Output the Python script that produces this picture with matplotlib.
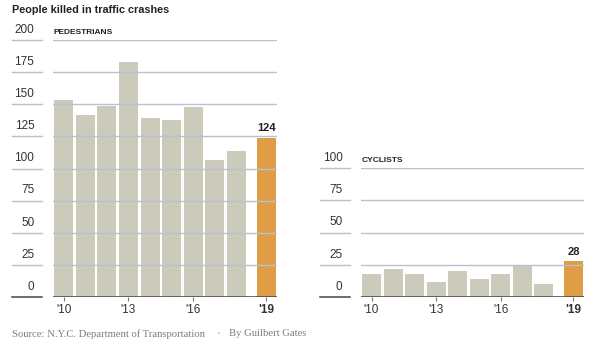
import matplotlib
matplotlib.use("Agg")
import matplotlib.pyplot as plt

# data
years = ["'10", "'11", "'12", "'13", "'14", "'15", "'16", "'17", "'18", "'19"]
pedestrians = [153, 142, 149, 183, 139, 138, 148, 107, 114, 124]
cyclists = [18, 22, 18, 12, 20, 14, 18, 24, 10, 28]
ped_ticks = [0, 25, 50, 75, 100, 125, 150, 175, 200]
cyc_ticks = [0, 25, 50, 75, 100]
shown_years = ["'10", "'13", "'16", "'19"]

GREY_BAR = "#cbcabb"
ORANGE = "#e09d45"
GRID = "#b4c3d0"
TEXT = "#333333"
SANS = ["Liberation Sans", "DejaVu Sans"]
SERIF = ["Liberation Serif", "DejaVu Serif"]

# bar positions: 2019 set a bit apart from the others
xpos = [i for i in range(9)] + [9.38]

fig = plt.figure(figsize=(6, 3.51), dpi=100)
fig.patch.set_facecolor("white")


def panel(rect, values, ticks, name):
    ax = fig.add_axes(rect)
    colors = [GREY_BAR] * 9 + [ORANGE]
    ax.bar(xpos, values, width=0.88, color=colors, zorder=2)
    ax.set_xlim(-0.49, 9.87)
    ax.set_ylim(0, ticks[-1])
    for s in ax.spines.values():
        s.set_visible(False)
    ax.set_yticks([])
    # gridlines on top of the bars
    for t in ticks:
        if t == 0:
            ax.axhline(t, color="#444444", lw=1.1, zorder=3)
        else:
            ax.axhline(t, color=GRID, lw=1.0, zorder=3)
        # short rule + number to the left of the plot
        ax.plot([-0.183, -0.05], [t, t], transform=ax.get_yaxis_transform(),
                color="#444444" if t == 0 else GRID, lw=1.0 if t else 1.1,
                clip_on=False)
        ax.annotate(str(t), xy=(-0.083, t), xycoords=("axes fraction", "data"),
                    xytext=(0, 3), textcoords="offset points",
                    ha="right", va="bottom", fontsize=8.5, color=TEXT,
                    family=SANS, annotation_clip=False)
    # x ticks
    idx = [years.index(y) for y in shown_years]
    ax.set_xticks([xpos[i] for i in idx])
    ax.set_xticklabels(shown_years, family=SANS, fontsize=8.5, color=TEXT)
    ax.get_xticklabels()[-1].set_fontweight("bold")
    ax.tick_params(axis="x", length=3, width=0.8, color="#777777", pad=2)
    # highlight label
    ax.annotate(str(values[-1]), xy=(xpos[-1], values[-1]),
                xytext=(0, 3), textcoords="offset points",
                ha="center", va="bottom", fontsize=8, fontweight="bold",
                color="#222222", family=SANS, zorder=5,
                bbox=dict(boxstyle="square,pad=0.15", fc="white", ec="none"))
    ax.annotate(name, xy=(0.004, 1.0), xycoords="axes fraction",
                xytext=(0, 3), textcoords="offset points",
                ha="left", va="bottom", fontsize=6, fontweight="bold",
                color="#222222", family=SANS)
    return ax


panel([53 / 600, 54 / 351, 224 / 600, 257 / 351], pedestrians, ped_ticks, "PEDESTRIANS")
panel([361 / 600, 54 / 351, 223 / 600, 128.7 / 351], cyclists, cyc_ticks, "CYCLISTS")

fig.text(12 / 600, 1 - 10 / 351, "People killed in traffic crashes",
         ha="left", va="center", fontsize=7.8, fontweight="bold",
         color="#222222", family=SANS)

fig.text(12 / 600, 1 - 334 / 351, "Source: N.Y.C. Department of Transportation",
         ha="left", va="center", fontsize=7.7, color="#7d7d7d", family=SERIF)
fig.text(219 / 600, 1 - 334 / 351, "\u2022", ha="center", va="center",
         fontsize=5, color="#cccccc")
fig.text(229 / 600, 1 - 334 / 351, "By Guilbert Gates",
         ha="left", va="center", fontsize=7.7, color="#7d7d7d", family=SERIF)

fig.savefig("out.png", dpi=100, facecolor="white")
